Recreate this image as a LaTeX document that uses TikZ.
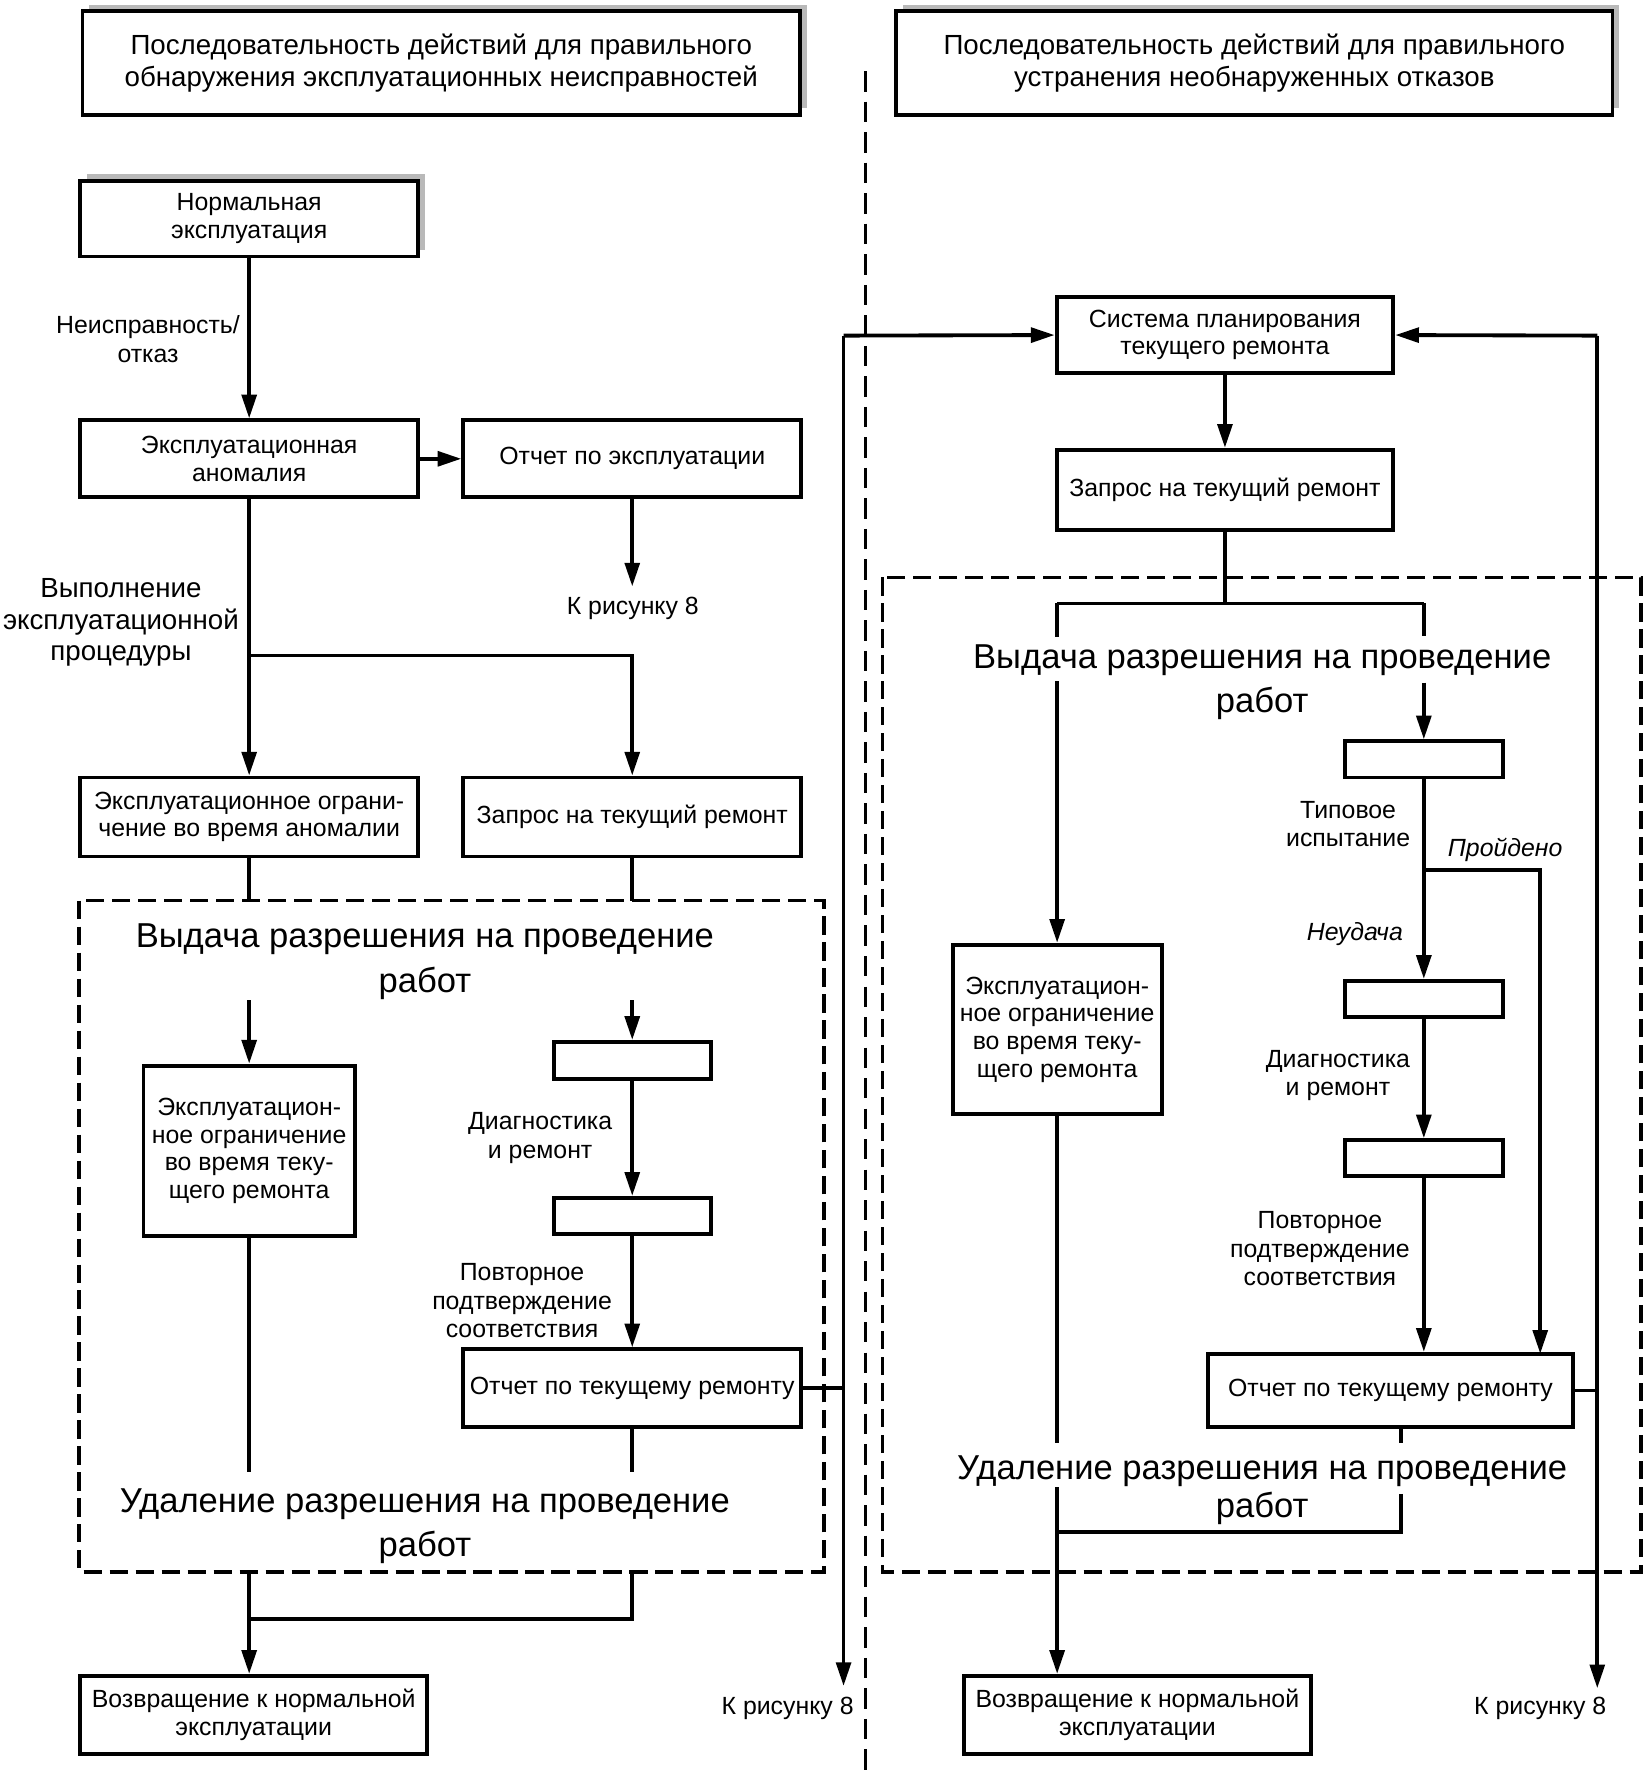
\documentclass[tikz,border=0pt]{standalone}
\usepackage{fontspec}
\setmainfont{Liberation Sans}
\usetikzlibrary{arrows.meta}
\newcommand\myBoxF{\fontsize{22}{24.5}\selectfont}
\newcommand\myLblF{\fontsize{22}{25}\selectfont}
\newcommand\myProcF{\fontsize{24.5}{28}\selectfont}
\newcommand\myTitleF{\fontsize{24.5}{28}\selectfont}
\newcommand\myBigF{\fontsize{30.6}{39}\selectfont}
\newcommand\myBigFb{\fontsize{30.6}{34}\selectfont}
\begin{document}
\begin{tikzpicture}[x=1pt,y=-1pt,
  box/.style={draw, fill=white, line width=3.4pt, align=center, inner sep=0pt, font=\myBoxF},
  shadowed/.style={preaction={fill=gray!55, transform canvas={xshift=6pt,yshift=6pt}}},
  conn/.style={line width=3.4pt},
  arr/.style={line width=3.4pt, -{Triangle[length=21pt,width=13pt]}},
  lbl/.style={align=center, inner sep=0pt, font=\myLblF},
  big/.style={align=center, inner sep=0pt, font=\myBigF},
  dbox/.style={line width=3.2pt, dash pattern=on 16pt off 7pt},
  sep/.style={line width=2.6pt, dash pattern=on 18pt off 9pt}
]
\useasboundingbox (0,0) rectangle (1456,1569);
\fill[white] (0,0) rectangle (1456,1569);

% separator
\coordinate (sepT) at (766,63);
\coordinate (sepB) at (766,1569);
\draw[sep] (sepT) -- (sepB);

% dashed regions
\draw[dbox] (70,797) rectangle (729,1391);
\draw[dbox] (781,511) rectangle (1452,1391);

% titles
\node[box, shadowed, font=\myTitleF, minimum width=635pt, minimum height=92pt] (titL) at (390.5,56)
  {Последовательность действий для правильного\\обнаружения эксплуатационных неисправностей};
\node[box, shadowed, font=\myTitleF, minimum width=634pt, minimum height=92pt] (titR) at (1110,56)
  {Последовательность действий для правильного\\устранения необнаруженных отказов};

% left column boxes
\node[box, shadowed, minimum width=299pt, minimum height=67pt] (norm) at (220.5,193.5) {Нормальная\\эксплуатация};
\node[box, minimum width=299pt, minimum height=68pt] (anom) at (220.5,406) {Эксплуатационная\\аномалия};
\node[box, minimum width=299pt, minimum height=68pt] (otch) at (559.5,406) {Отчет по эксплуатации};
\node[box, minimum width=299pt, minimum height=70pt] (ogr1) at (220.5,723) {Эксплуатационное ограни-\\чение во время аномалии};
\node[box, minimum width=299pt, minimum height=70pt] (zap1) at (559.5,723) {Запрос на текущий ремонт};
\node[box, minimum width=187pt, minimum height=151pt] (ogr2) at (220.5,1018.5) {Эксплуатацион-\\ное ограничение\\во время теку-\\щего ремонта};
\node[box, minimum width=139pt, minimum height=33pt] (s1) at (559.5,938.5) {};
\node[box, minimum width=139pt, minimum height=32pt] (s2) at (559.5,1076) {};
\node[box, minimum width=299pt, minimum height=69pt] (rep1) at (559.5,1228.5) {Отчет по текущему ремонту};
\node[box, minimum width=307pt, minimum height=69pt] (ret1) at (224.5,1517.5) {Возвращение к нормальной\\эксплуатации};

% right column boxes
\node[box, minimum width=298pt, minimum height=67pt] (plan) at (1084,296.5) {Система планирования\\текущего ремонта};
\node[box, minimum width=298pt, minimum height=71pt] (zap2) at (1084,433.5) {Запрос на текущий ремонт};
\node[box, minimum width=185pt, minimum height=150pt] (ogr3) at (935.5,911) {Эксплуатацион-\\ное ограничение\\во время теку-\\щего ремонта};
\node[box, minimum width=140pt, minimum height=32pt] (t1) at (1260,672) {};
\node[box, minimum width=140pt, minimum height=32pt] (t2) at (1260,884) {};
\node[box, minimum width=140pt, minimum height=32pt] (t3) at (1260,1025) {};
\node[box, minimum width=323pt, minimum height=65pt] (rep2) at (1230.5,1230.5) {Отчет по текущему ремонту};
\node[box, minimum width=307pt, minimum height=69pt] (ret2) at (1006.5,1517.5) {Возвращение к нормальной\\эксплуатации};

% labels
\node[lbl] (lfail) at (131,300) {Неисправность/\\отказ};
\node[lbl, font=\myProcF] (lproc) at (107,551) {Выполнение\\эксплуатационной\\процедуры};
\node[lbl] (k1) at (560,538) {К рисунку 8};
\node[lbl] (ldiag1) at (478,1007) {Диагностика\\и ремонт};
\node[lbl] (lrep1) at (462,1151) {Повторное\\подтверждение\\соответствия};
\node[lbl] (k2) at (697,1512) {К рисунку 8};
\node[lbl] (ltype) at (1193,729) {Типовое\\испытание};
\node[lbl, font=\myLblF\itshape] (lpass) at (1332,752) {Пройдено};
\node[lbl, font=\myLblF\itshape] (lfailr) at (1199,827) {Неудача};
\node[lbl] (ldiag2) at (1184,952) {Диагностика\\и ремонт};
\node[lbl] (lrep2) at (1168,1105) {Повторное\\подтверждение\\соответствия};
\node[lbl] (k3) at (1363,1512) {К рисунку 8};

\node[big] (bigL1) at (376,851) {Выдача разрешения на проведение\\работ};
\node[big] (bigL2) at (376,1350.5) {Удаление разрешения на проведение\\работ};
\node[big] (bigR1) at (1117,604) {Выдача разрешения на проведение\\работ};
\node[big, font=\myBigFb] (bigR2) at (1117,1318.5) {Удаление разрешения на проведение\\работ};

% ---- left connectors
\coordinate (k1t) at (559.5,519);
\coordinate (br1) at (220.5,580);
\coordinate (dL1) at (220.5,797);
\coordinate (dL2) at (559.5,797);
\coordinate (a1) at (220.5,885);
\coordinate (a2) at (559.5,885);
\coordinate (a3) at (220.5,1303);
\coordinate (a4) at (559.5,1303);
\coordinate (b1) at (220.5,1391);
\coordinate (b2) at (559.5,1391);
\coordinate (b3) at (220.5,1433);
\coordinate (v1t) at (746.5,297);
\coordinate (v1b) at (746.5,1492);

\draw[arr] (norm.south) -- (anom.north);
\draw[arr] (anom.east) -- (otch.west);
\draw[arr] (otch.south) -- (k1t);
\draw[arr] (anom.south) -- (ogr1.north);
\draw[arr] (br1) -| (zap1.north);
\draw[conn] (ogr1.south) -- (dL1);
\draw[conn] (zap1.south) -- (dL2);
\draw[arr] (a1) -- (ogr2.north);
\draw[arr] (a2) -- (s1.north);
\draw[arr] (s1.south) -- (s2.north);
\draw[arr] (s2.south) -- (rep1.north);
\draw[conn] (ogr2.south) -- (a3);
\draw[conn] (rep1.south) -- (a4);
\draw[conn] (b2) |- (b3);
\draw[arr] (b1) -- (b1 |- ret1.north);
\draw[arr] (v1t) -- (v1b);
\draw[arr] (v1t) -- (plan.west);
\draw[conn] (rep1.east) -- (rep1.east -| v1t);

% ---- right connectors
\coordinate (br2) at (1084,534);
\coordinate (bl) at (935.5,534);
\coordinate (brr) at (1260,534);
\coordinate (bl2) at (935.5,564);
\coordinate (bl3) at (935.5,603);
\coordinate (br2a) at (1260,563);
\coordinate (br2b) at (1260,604);
\coordinate (p1) at (1260,770);
\coordinate (p2) at (1363,1198);
\coordinate (v2t) at (1413.5,297);
\coordinate (v2b) at (1413.5,1494);
\coordinate (c1) at (935.5,1277);
\coordinate (c2) at (935.5,1316);
\coordinate (d1) at (1240,1263);
\coordinate (d2) at (1240,1277);
\coordinate (d3) at (1240,1322);
\coordinate (d4) at (935.5,1356);

\draw[arr] (plan.south) -- (zap2.north);
\draw[conn] (zap2.south) -- (br2);
\draw[conn] (bl) -- (brr);
\draw[conn] (bl) -- (bl2);
\draw[arr] (bl3) -- (ogr3.north);
\draw[conn] (brr) -- (br2a);
\draw[arr] (br2b) -- (t1.north);
\draw[arr] (t1.south) -- (t2.north);
\draw[arr] (p1) -| (p2);
\draw[arr] (t2.south) -- (t3.north);
\draw[arr] (t3.south) -- (t3.south |- rep2.north);
\draw[arr] (v2t) -- (plan.east);
\draw[arr] (v2t) -- (v2b);
\draw[conn] (rep2.east) -- (rep2.east -| v2t);
\draw[conn] (ogr3.south) -- (c1);
\draw[arr] (c2) -- (c2 |- ret2.north);
\draw[conn] (d1) -- (d2);
\draw[conn] (d3) |- (d4);
\end{tikzpicture}
\end{document}
